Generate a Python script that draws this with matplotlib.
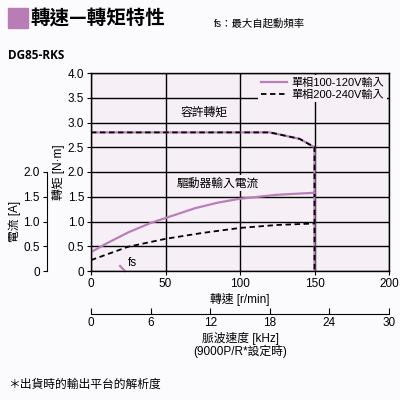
import matplotlib
matplotlib.use('Agg')
import matplotlib.pyplot as plt
from matplotlib.patches import Rectangle

plt.rcParams['font.family'] = ['Liberation Sans', 'Noto Sans CJK TC']

# Torque curve (both inputs overlap)
speed_torque = [0, 120, 140, 150, 150]
torque = [2.8, 2.8, 2.67, 2.5, 0]

# Driver input current (plotted on the same scale as torque)
speed_cur = [0, 10, 25, 40, 50, 70, 85, 100, 125, 150]
cur_100 = [0.38, 0.55, 0.78, 0.97, 1.07, 1.27, 1.38, 1.46, 1.54, 1.58]
speed_cur2 = [0, 25, 50, 75, 100, 125, 150]
cur_200 = [0.22, 0.49, 0.65, 0.77, 0.87, 0.93, 0.96]

# fs marker
fs_x = [19.5, 22.8]
fs_y = [0.1, 0.0]

purple = '#b87fba'
speed_ticks = [0, 50, 100, 150, 200]
pulse_ticks = [0, 6, 12, 18, 24, 30]
torque_ticks = [0, 0.5, 1.0, 1.5, 2.0, 2.5, 3.0, 3.5, 4.0]
torque_labels = ['0', '0.5', '1.0', '1.5', '2.0', '2.5', '3.0', '3.5', '4.0']
current_ticks = [0, 0.5, 1.0, 1.5, 2.0]
current_labels = ['0', '0.5', '1.0', '1.5', '2.0']

fig = plt.figure(figsize=(4, 4), dpi=100, facecolor='#fbfafd')

# title block
fig.patches.append(Rectangle((0.02, 0.93), 0.05, 0.05, transform=fig.transFigure,
                             color='#b87db5'))
fig.text(0.075, 0.955, '轉速—轉矩特性', fontsize=14, fontweight='heavy',
         family=['Noto Sans CJK TC'], va='center', ha='left')
fig.text(0.535, 0.94, 'fs：最大自起動頻率', fontsize=7.5,
         family=['Liberation Sans', 'Noto Sans CJK TC'], va='center', ha='left')
fig.text(0.02, 0.862, 'DG85-RKS', fontsize=8.5, fontweight='bold',
         family=['Open Sans'], va='center', ha='left')

ax = fig.add_axes([0.2275, 0.3225, 0.745, 0.495])
ax.set_facecolor('#f6eff6')
ax.set_xlim(0, 200)
ax.set_ylim(0, 4)
ax.set_xticks(speed_ticks)
ax.set_yticks(torque_ticks)
ax.set_yticklabels(torque_labels)
ax.tick_params(labelsize=8.5, length=3, pad=2)
ax.grid(True, color='black', linewidth=1)
ax.set_axisbelow(True)
for s in ax.spines.values():
    s.set_linewidth(1)

ax.plot(speed_torque, torque, color=purple, linewidth=1.6)
ax.plot(speed_torque, torque, color='black', linewidth=1.3, dashes=(3, 2))
l1, = ax.plot(speed_cur, cur_100, color=purple, linewidth=1.6, label='單相100-120V輸入')
l2, = ax.plot(speed_cur2, cur_200, color='black', linewidth=1.3, dashes=(3, 2),
              label='單相200-240V輸入')
ax.plot(fs_x, fs_y, color=purple, linewidth=1.6, clip_on=False)
ax.text(25, 0.17, 'fs', fontsize=8.5, va='center', ha='left')

ax.text(76, 3.2, '容許轉矩', fontsize=8.5, ha='center', va='center',
        family=['Noto Sans CJK TC'],
        bbox=dict(facecolor='#f6eff6', edgecolor='none', pad=1))
ax.text(85, 1.78, '驅動器輸入電流', fontsize=8.5, ha='center', va='center',
        family=['Noto Sans CJK TC'],
        bbox=dict(facecolor='#f6eff6', edgecolor='none', pad=1))

leg = ax.legend(handles=[l1, l2], loc='upper right', fontsize=8, frameon=True,
                facecolor='#f6eff6', edgecolor='none', framealpha=1,
                handlelength=2.4, handletextpad=0.4, borderpad=0.2,
                labelspacing=0.15, borderaxespad=0.2)
leg.get_frame().set_boxstyle('square', pad=0)

ax.set_xlabel('轉速 [r/min]', fontsize=8.5, labelpad=2)
ax.set_ylabel('轉矩 [N·m]', fontsize=8.5, labelpad=2)

# current axis
axc = fig.add_axes([0.117, 0.3225, 0.0001, 0.2475])
axc.set_ylim(0, 2)
axc.set_xticks([])
axc.set_yticks(current_ticks)
axc.set_yticklabels(current_labels)
axc.tick_params(labelsize=8.5, length=3, pad=2)
for k in ['top', 'right', 'bottom']:
    axc.spines[k].set_visible(False)
axc.patch.set_visible(False)
axc.set_ylabel('電流 [A]', fontsize=8.5, labelpad=2)

# pulse speed axis
axp = fig.add_axes([0.2275, 0.215, 0.745, 0.0001])
axp.set_xlim(0, 30)
axp.set_xticks(pulse_ticks)
axp.set_yticks([])
axp.tick_params(labelsize=8.5, length=4, pad=2, direction='in')
for k in ['top', 'right', 'left']:
    axp.spines[k].set_visible(False)
axp.patch.set_visible(False)
axp.set_xlabel('脈波速度 [kHz]\n(9000P/R*設定時)', fontsize=8.5, labelpad=2,
               linespacing=1.0)

fig.text(0.02, 0.04, '＊出貨時的輸出平台的解析度', fontsize=8.5,
         family=['Noto Sans CJK TC'], va='center', ha='left')

fig.savefig('out.png', dpi=100, facecolor=fig.get_facecolor())
